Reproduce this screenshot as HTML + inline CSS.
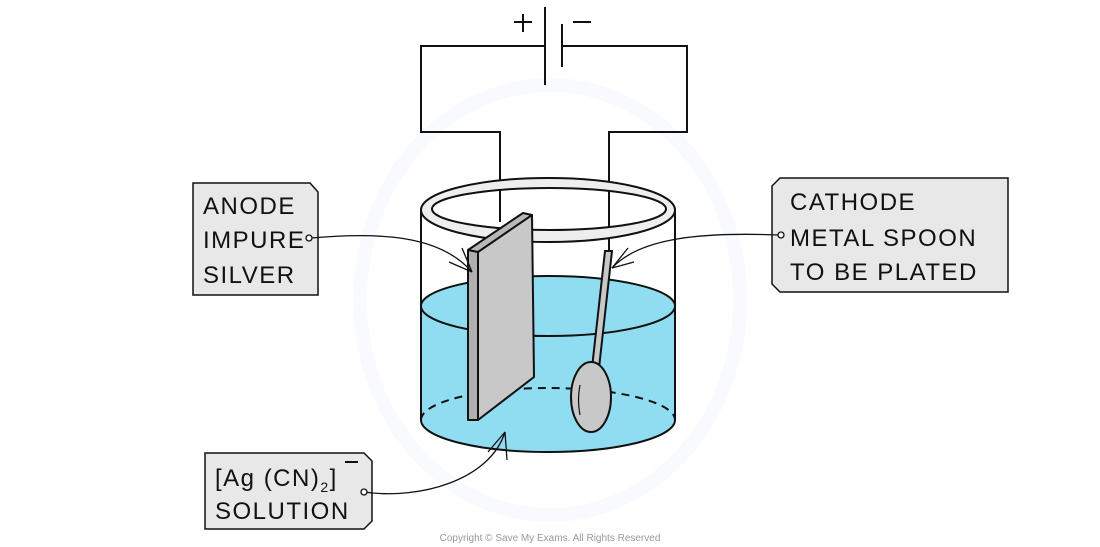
<!DOCTYPE html>
<html><head><meta charset="utf-8"><style>
html,body{margin:0;padding:0;background:#fff;}
svg{display:block;}
text{font-family:"Liberation Sans",sans-serif;fill:#111;}
</style></head><body>
<svg width="1100" height="547" viewBox="0 0 1100 547" xmlns="http://www.w3.org/2000/svg">
<!-- faint watermark -->
<ellipse cx="550" cy="300" rx="190" ry="215" fill="none" stroke="#f8fafd" stroke-width="14"/>
<!-- circuit -->
<g fill="none" stroke="#111" stroke-width="2">
<path d="M545 46 H421 V132 H500 V222"/>
<path d="M562 46 H687 V132 H609 V252"/>
<line x1="545" y1="7" x2="545" y2="85"/>
<line x1="562" y1="24" x2="562" y2="67"/>
<line x1="514" y1="22" x2="532" y2="22"/>
<line x1="523" y1="14" x2="523" y2="32"/>
<line x1="573" y1="22" x2="591" y2="22"/>
</g>
<!-- water -->
<path d="M421 306 L421 420 A127 32 0 0 0 675 420 L675 306 A127 30 0 0 0 421 306 Z" fill="#90dcf1" stroke="none"/>
<path d="M421 420 A127 32 0 0 1 675 420" fill="none" stroke="#111" stroke-width="2" stroke-dasharray="8 6"/>
<path d="M421 420 A127 32 0 0 0 675 420" fill="none" stroke="#111" stroke-width="2"/>
<ellipse cx="548" cy="306" rx="127" ry="30" fill="none" stroke="#111" stroke-width="2"/>
<!-- beaker walls -->
<line x1="421" y1="210" x2="421" y2="420" stroke="#111" stroke-width="2"/>
<line x1="675" y1="210" x2="675" y2="420" stroke="#111" stroke-width="2"/>
<!-- rim -->
<path d="M421 210 A127 32 0 0 1 675 210 A127 32 0 0 1 421 210 Z M432 209 A117 21 0 0 0 666 209 A117 21 0 0 0 432 209 Z" fill="#eeeeee" fill-rule="evenodd" stroke="#111" stroke-width="2"/>
<!-- plate -->
<g stroke="#111" stroke-width="2" stroke-linejoin="round">
<polygon points="478,250 532,215 534,377 478,420" fill="#c8c8c8"/>
<polygon points="468,250 478,250 478,420 468,420" fill="#b0b0b0"/>
<polygon points="468,250 523,213 532,215 478,252" fill="#b8b8b8"/>
</g>
<!-- spoon -->
<g stroke="#111" stroke-width="2" fill="#c8c8c8">
<path d="M605 251 L612 251 L599 368 L592 368 Z"/>
<ellipse cx="591" cy="397" rx="20" ry="35"/>
</g>
<path d="M580 385 Q577 400 580 415" fill="none" stroke="#111" stroke-width="1.2"/>
<!-- label boxes -->
<g fill="#e8e8e8" stroke="#111" stroke-width="1.5">
<polygon points="193,183 310,183 318,192 318,295 193,295"/>
<polygon points="780,178 1008,178 1008,292 780,292 772,284 772,186"/>
<polygon points="205,453 364,453 372,461 372,521 364,529 205,529"/>
</g>
<!-- arrows -->
<g fill="none" stroke="#111" stroke-width="1.3">
<path d="M311 238 C380 232 440 235 472 272"/>
<path d="M472 272 L462 248 M472 272 L449 262"/>
<path d="M779 235 C700 232 640 238 612 268"/>
<path d="M612 268 L628 248 M612 268 L634 262"/>
<path d="M364 492 C420 500 490 480 505 432"/>
<path d="M505 432 L488 452 M505 432 L507 460"/>
</g>
<circle cx="309" cy="238" r="3" fill="#fff" stroke="#111" stroke-width="1.3"/>
<circle cx="781" cy="235" r="3" fill="#fff" stroke="#111" stroke-width="1.3"/>
<circle cx="364" cy="492" r="3" fill="#fff" stroke="#111" stroke-width="1.3"/>
<g font-size="24" letter-spacing="1.5">
<text x="203" y="214">ANODE</text>
<text x="203" y="248">IMPURE</text>
<text x="203" y="283">SILVER</text>
<text x="790" y="210">CATHODE</text>
<text x="790" y="246">METAL SPOON</text>
<text x="790" y="280">TO BE PLATED</text>
<text x="215" y="486">[Ag (CN)<tspan font-size="14" dy="6">2</tspan><tspan dy="-6">]</tspan></text>
<text x="215" y="519">SOLUTION</text>
</g>
<line x1="345" y1="462" x2="358" y2="462" stroke="#111" stroke-width="2"/>
<text x="550" y="541" font-size="10" fill="#999" style="fill:#999" text-anchor="middle">Copyright © Save My Exams. All Rights Reserved</text>
</svg>
</body></html>
